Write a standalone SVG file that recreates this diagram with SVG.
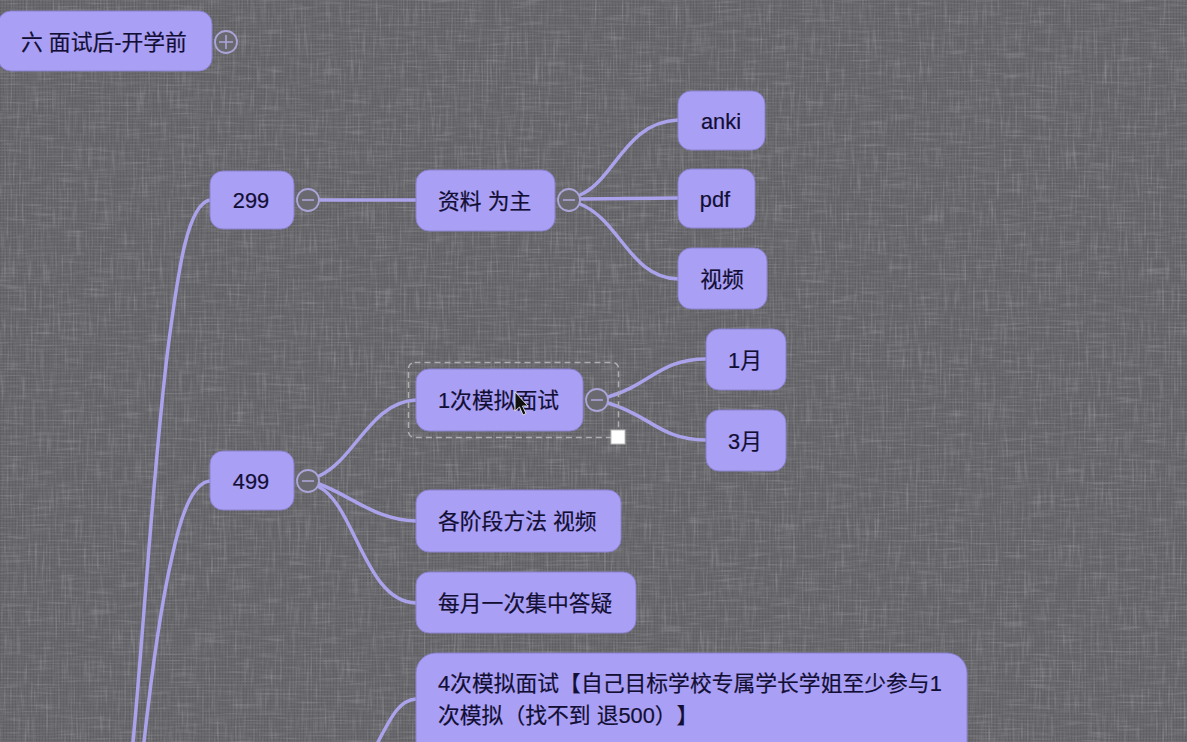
<svg xmlns="http://www.w3.org/2000/svg" width="1187" height="742" viewBox="0 0 1187 742">
<style>
.n{fill:#a99ff4;stroke:#8a82cf;stroke-width:1}
.t{font-family:"Liberation Sans","Noto Sans CJK SC",sans-serif;font-size:21.800px;fill:#120e34;stroke:#120e34;stroke-width:.2;text-spacing-trim:space-all}
.c{fill:none;stroke:#aaa2ea;stroke-width:3.500;stroke-linecap:round}
.b{fill:#69696f;stroke:#aaa5d8;stroke-width:1.800}
.m{stroke:#aaa5d8;stroke-width:1.600;fill:none}
</style>
<defs>
<pattern id="weave" width="3" height="3" patternUnits="userSpaceOnUse"><rect width="3" height="3" fill="#66666b"/><rect width="1" height="3" fill="#5d5d62"/><rect y="0" width="3" height="1" fill="#6e6e72" opacity=".7"/></pattern>
<filter id="w" x="0" y="0" width="100%" height="100%"><feTurbulence type="fractalNoise" baseFrequency="0.035 0.45" numOctaves="2" seed="4"/><feColorMatrix values="0 0 0 0 .52 0 0 0 0 .52 0 0 0 0 .53 1.200 1.200 0 0 -1.200"/></filter>
<filter id="v" x="0" y="0" width="100%" height="100%"><feTurbulence type="fractalNoise" baseFrequency="0.45 0.035" numOctaves="2" seed="9"/><feColorMatrix values="0 0 0 0 .52 0 0 0 0 .52 0 0 0 0 .53 1.200 1.200 0 0 -1.200"/></filter>
</defs>
<rect id="bg" width="1187" height="742" fill="url(#weave)"/>
<rect width="1187" height="742" filter="url(#w)" opacity=".35"/>
<rect width="1187" height="742" filter="url(#v)" opacity=".35"/>
<g id="connectors">
<path class="c" d="M133 742C143 640 155 440 170 333C178 275 187 204 210 200"/>
<path class="c" d="M144 742C152 670 162 600 172 557C181 515 192 483 210 481"/>
<path class="c" d="M319 200H416"/>
<path class="c" d="M580 195C615 180 625 122 678 120"/>
<path class="c" d="M580 199L678 198"/>
<path class="c" d="M580 204C620 220 630 278 678 279"/>
<path class="c" d="M319 476C355 460 370 402 416 400"/>
<path class="c" d="M319 484C350 495 375 520 416 521"/>
<path class="c" d="M319 487C355 505 365 602 416 603"/>
<path class="c" d="M608 397C650 385 660 359 706 359"/>
<path class="c" d="M608 403C650 415 660 440 706 440"/>
<path class="c" d="M378 742C392 715 400 700 416 699"/>
</g>
<g id="n-title"><rect class="n" x="-2" y="11" width="214" height="60" rx="13"/><text class="t" x="21" y="50">六 面试后-开学前</text>
<circle class="b" cx="226" cy="42" r="11"/><path class="m" d="M219 42H233M226 35V49"/></g>
<g id="n-299"><rect class="n" x="210" y="171" width="84" height="58" rx="13"/><text class="t" x="251" y="208" text-anchor="middle">299</text>
<circle class="b" cx="308" cy="200" r="11"/><path class="m" d="M302 200H314"/></g>
<g id="n-ziliao"><rect class="n" x="416" y="170" width="139" height="61" rx="13"/><text class="t" x="438" y="209">资料 为主</text>
<circle class="b" cx="569" cy="200" r="11"/><path class="m" d="M563 200H575"/></g>
<g id="n-anki"><rect class="n" x="678" y="91" width="87" height="59" rx="13"/><text class="t" x="721" y="129" text-anchor="middle">anki</text></g>
<g id="n-pdf"><rect class="n" x="678" y="169" width="77" height="59" rx="13"/><text class="t" x="715" y="207" text-anchor="middle">pdf</text></g>
<g id="n-video"><rect class="n" x="678" y="248" width="89" height="61" rx="13"/><text class="t" x="722" y="287" text-anchor="middle">视频</text></g>
<g id="n-selection"><rect x="408.500" y="362.500" width="210" height="75" rx="6" fill="none" stroke="#aeaeb0" stroke-width="1.500" stroke-dasharray="6 4"/><rect x="611" y="430" width="14" height="14" fill="#fff" stroke="#bbb"/></g>
<g id="n-mock1"><rect class="n" x="416" y="369" width="167" height="62" rx="13"/><text class="t" x="438" y="408">1次模拟面试</text>
<circle class="b" cx="597" cy="400" r="11"/><path class="m" d="M591 400H603"/></g>
<g id="n-jan"><rect class="n" x="706" y="329" width="80" height="61" rx="13"/><text class="t" x="745" y="368" text-anchor="middle">1月</text></g>
<g id="n-mar"><rect class="n" x="706" y="410" width="80" height="61" rx="13"/><text class="t" x="745" y="449" text-anchor="middle">3月</text></g>
<g id="n-499"><rect class="n" x="210" y="451" width="84" height="59" rx="13"/><text class="t" x="251" y="489" text-anchor="middle">499</text>
<circle class="b" cx="308" cy="481" r="11"/><path class="m" d="M302 481H314"/></g>
<g id="n-method"><rect class="n" x="416" y="490" width="205" height="62" rx="13"/><text class="t" x="438" y="529">各阶段方法 视频</text></g>
<g id="n-qa"><rect class="n" x="416" y="572" width="220" height="61" rx="13"/><text class="t" x="438" y="611">每月一次集中答疑</text></g>
<g id="n-mock4"><rect class="n" x="416" y="653" width="551" height="110" rx="20"/><text class="t" x="438" y="691">4次模拟面试【自己目标学校专属学长学姐至少参与1</text><text class="t" x="438" y="723">次模拟（找不到 退500）】</text></g>
<path id="cursor" d="M515 392V411L519.500 407L523 415L526 413.500L522.500 406H528Z" fill="#111" stroke="#ddd" stroke-width="1"/>
</svg>
